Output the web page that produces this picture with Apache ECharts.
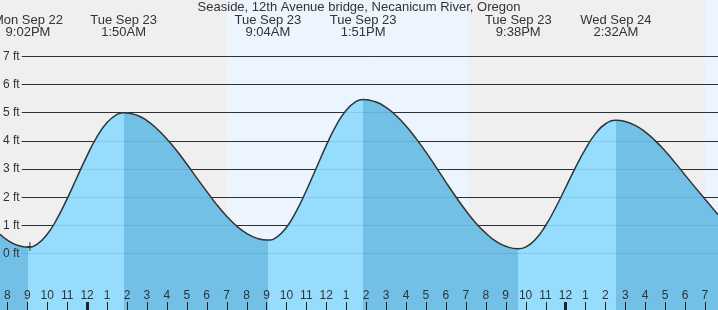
<!DOCTYPE html>
<html><head><meta charset="utf-8">
<script src="https://cdn.jsdelivr.net/npm/echarts@6/dist/echarts.min.js"></script>
<style>html,body{margin:0;padding:0;background:#efefef}#c{width:718px;height:310px}</style>
</head><body><div id="c"></div>
<script>
const titleText = 'Seaside, 12th Avenue bridge, Necanicum River, Oregon';
// hours counted from Mon Sep 22 00:00, heights in ft
const tideHours = [19.63, 20, 20.5, 21.033, 21.5, 22, 22.5, 23, 23.5, 24, 24.5, 25, 25.5, 25.833,
  26.5, 27, 27.5, 28, 28.5, 29, 29.5, 30, 30.5, 31, 31.5, 32, 32.5, 33.067,
  33.5, 34, 34.5, 35, 35.5, 36, 36.5, 37, 37.5, 37.85,
  38.5, 39, 39.5, 40, 40.5, 41, 41.5, 42, 42.5, 43, 43.5, 44, 44.5, 45, 45.633,
  46, 46.5, 47, 47.5, 48, 48.5, 49, 49.5, 50, 50.533,
  51, 51.5, 52, 52.5, 53, 53.5, 54, 54.5, 55, 55.66];
const tideFeet = [0.69, 0.48, 0.30, 0.23, 0.34, 0.69, 1.25, 1.95, 2.72, 3.48, 4.15, 4.65, 4.94, 5.0,
  4.91, 4.72, 4.43, 4.07, 3.65, 3.18, 2.69, 2.21, 1.74, 1.33, 0.98, 0.72, 0.55, 0.48,
  0.58, 0.93, 1.51, 2.24, 3.04, 3.84, 4.55, 5.09, 5.40, 5.47,
  5.38, 5.19, 4.90, 4.53, 4.09, 3.60, 3.08, 2.54, 2.02, 1.53, 1.09, 0.73, 0.44, 0.26, 0.17,
  0.23, 0.51, 0.99, 1.62, 2.33, 3.05, 3.71, 4.25, 4.60, 4.73,
  4.69, 4.55, 4.32, 4.01, 3.64, 3.23, 2.79, 2.36, 1.94, 1.38];
const extremeHours = [21.033, 25.833, 33.067, 37.85, 45.633, 50.533];
const extremeDays = ['Mon Sep 22', 'Tue Sep 23', 'Tue Sep 23', 'Tue Sep 23', 'Tue Sep 23', 'Wed Sep 24'];
const extremeClock = ['9:02PM', '1:50AM', '9:04AM', '1:51PM', '9:38PM', '2:32AM'];
const daylightStart = [31.02, 55.0];
const daylightEnd = [43.11, 56.5];
const hourTicks = [20,21,22,23,24,25,26,27,28,29,30,31,32,33,34,35,36,37,38,39,40,41,42,43,44,45,46,47,48,49,50,51,52,53,54,55];
const footTicks = [0, 1, 2, 3, 4, 5, 6, 7];
const nowHour = 21.13, nowFeet = 0.25;

const xMin = 19.629, xMax = 55.655;
const yMin = -2, yMax = 9;
const H = 310;
const pxPerFt = H / (yMax - yMin);
const zeroY = H - (0 - yMin) * pxPerFt;
const innerTop = zeroY - 7 * pxPerFt;
const innerBottom = H - zeroY;

const FONT = '"Liberation Sans", Arial, sans-serif';
const TXT = '#333';
const RISE = '#96dcfc', FALL = '#72c0e5', DAY = '#ecf5fd';

const pieces = [];
for (let i = 0; i <= extremeHours.length; i++) {
  const p = { color: i % 2 === 0 ? FALL : RISE };
  if (i > 0) p.gte = extremeHours[i - 1];
  if (i < extremeHours.length) p.lt = extremeHours[i];
  pieces.push(p);
}
const tideData = tideHours.map((h, i) => [h, tideFeet[i]]);

const chart = echarts.init(document.getElementById('c'), null, { renderer: 'canvas' });
chart.setOption({
  backgroundColor: '#efefef',
  animation: false,
  title: { text: titleText, left: 'center', top: 1, padding: 0,
    textStyle: { fontFamily: FONT, fontSize: 13, fontWeight: 'normal', color: TXT } },
  grid: [
    { left: 0, right: 0, top: 0, bottom: 0 },
    { left: 21.5, right: 0, top: innerTop, bottom: innerBottom }
  ],
  xAxis: [
    { type: 'value', gridIndex: 0, min: xMin, max: xMax, position: 'bottom', z: 5,
      axisLine: { show: false, onZero: false }, splitLine: { show: false }, axisTick: { show: false },
      axisLabel: { show: true, inside: true, margin: 14, verticalAlign: 'middle', customValues: hourTicks,
        fontFamily: FONT, fontSize: 12, color: TXT,
        formatter: v => { const h = Math.round(v) % 12; return String(h === 0 ? 12 : h); } } },
    { type: 'value', gridIndex: 1, min: 0, max: 1, show: false, axisLine: { onZero: false } }
  ],
  yAxis: [
    { type: 'value', gridIndex: 0, min: yMin, max: yMax, show: false },
    { type: 'value', gridIndex: 1, min: 0, max: 7, interval: 1, z: 1, position: 'left',
      axisLine: { show: false, onZero: false }, axisTick: { show: false }, axisLabel: { show: false },
      splitLine: { show: true, lineStyle: { color: '#333', width: 1 } } },
    { type: 'value', gridIndex: 1, min: 0, max: 7, interval: 1, z: 3, position: 'left', offset: 0,
      axisLine: { show: false, onZero: false }, axisTick: { show: false },
      axisLabel: { show: true, margin: 2, fontFamily: FONT, fontSize: 12, color: TXT, formatter: v => v + ' ft' },
      splitLine: { show: true, lineStyle: { color: 'rgba(0,40,80,0.1)', width: 1 } } }
  ],
  visualMap: { type: 'piecewise', show: false, seriesIndex: 1, dimension: 0, pieces: pieces },
  series: [
    { type: 'custom', xAxisIndex: 0, yAxisIndex: 0, z: 0, silent: true,
      data: daylightStart.map((s, i) => [s, daylightEnd[i]]),
      renderItem: (params, api) => {
        const x0 = api.coord([api.value(0), 0])[0];
        const x1 = api.coord([api.value(1), 0])[0];
        const cs = params.coordSys;
        return { type: 'rect', shape: { x: x0, y: cs.y, width: x1 - x0, height: cs.height }, style: { fill: DAY } };
      } },
    { type: 'line', xAxisIndex: 0, yAxisIndex: 0, z: 2, data: tideData, smooth: 0.5, showSymbol: false, symbol: 'none',
      lineStyle: { width: 0 }, areaStyle: { opacity: 1, origin: 'start' }, silent: true },
    { type: 'line', xAxisIndex: 0, yAxisIndex: 0, z: 4, data: tideData, smooth: 0.5, showSymbol: false, symbol: 'none',
      lineStyle: { width: 1.5, color: '#333' }, itemStyle: { color: '#333' }, silent: true },
    { type: 'custom', xAxisIndex: 0, yAxisIndex: 0, z: 5, silent: true,
      data: extremeHours.map((h, i) => [h, i]),
      renderItem: (params, api) => {
        const x = api.coord([api.value(0), 0])[0];
        const i = api.value(1);
        const st = t => ({ text: t, font: '13px ' + FONT, fill: TXT, align: 'center', verticalAlign: 'middle' });
        return { type: 'group', children: [
          { type: 'text', x: x, y: 20, style: st(extremeDays[i]) },
          { type: 'text', x: x, y: 32, style: st(extremeClock[i]) }
        ] };
      } },
    { type: 'custom', xAxisIndex: 0, yAxisIndex: 0, z: 10, silent: true,
      data: hourTicks.map(h => [h, 0]),
      renderItem: (params, api) => {
        const v = api.value(0);
        const x = Math.round(api.coord([v, 0])[0]);
        const cs = params.coordSys;
        const bottom = cs.y + cs.height;
        const w = (Math.round(v) % 24 === 0) ? 3 : 1;
        return { type: 'rect', shape: { x: x - (w - 1) / 2, y: bottom - 8, width: w, height: 8 },
          style: { fill: '#222' } };
      } },
    { type: 'custom', xAxisIndex: 0, yAxisIndex: 0, z: 5, silent: true,
      data: [[nowHour, nowFeet]],
      renderItem: (params, api) => {
        const p = api.coord([api.value(0), api.value(1)]);
        const s = { stroke: '#333', lineWidth: 1 };
        return { type: 'group', children: [
          { type: 'line', shape: { x1: p[0] - 3, y1: p[1], x2: p[0] + 3, y2: p[1] }, style: s },
          { type: 'line', shape: { x1: p[0], y1: p[1] - 4.5, x2: p[0], y2: p[1] + 4.5 }, style: s }
        ] };
      } }
  ]
});
</script>
</body></html>
